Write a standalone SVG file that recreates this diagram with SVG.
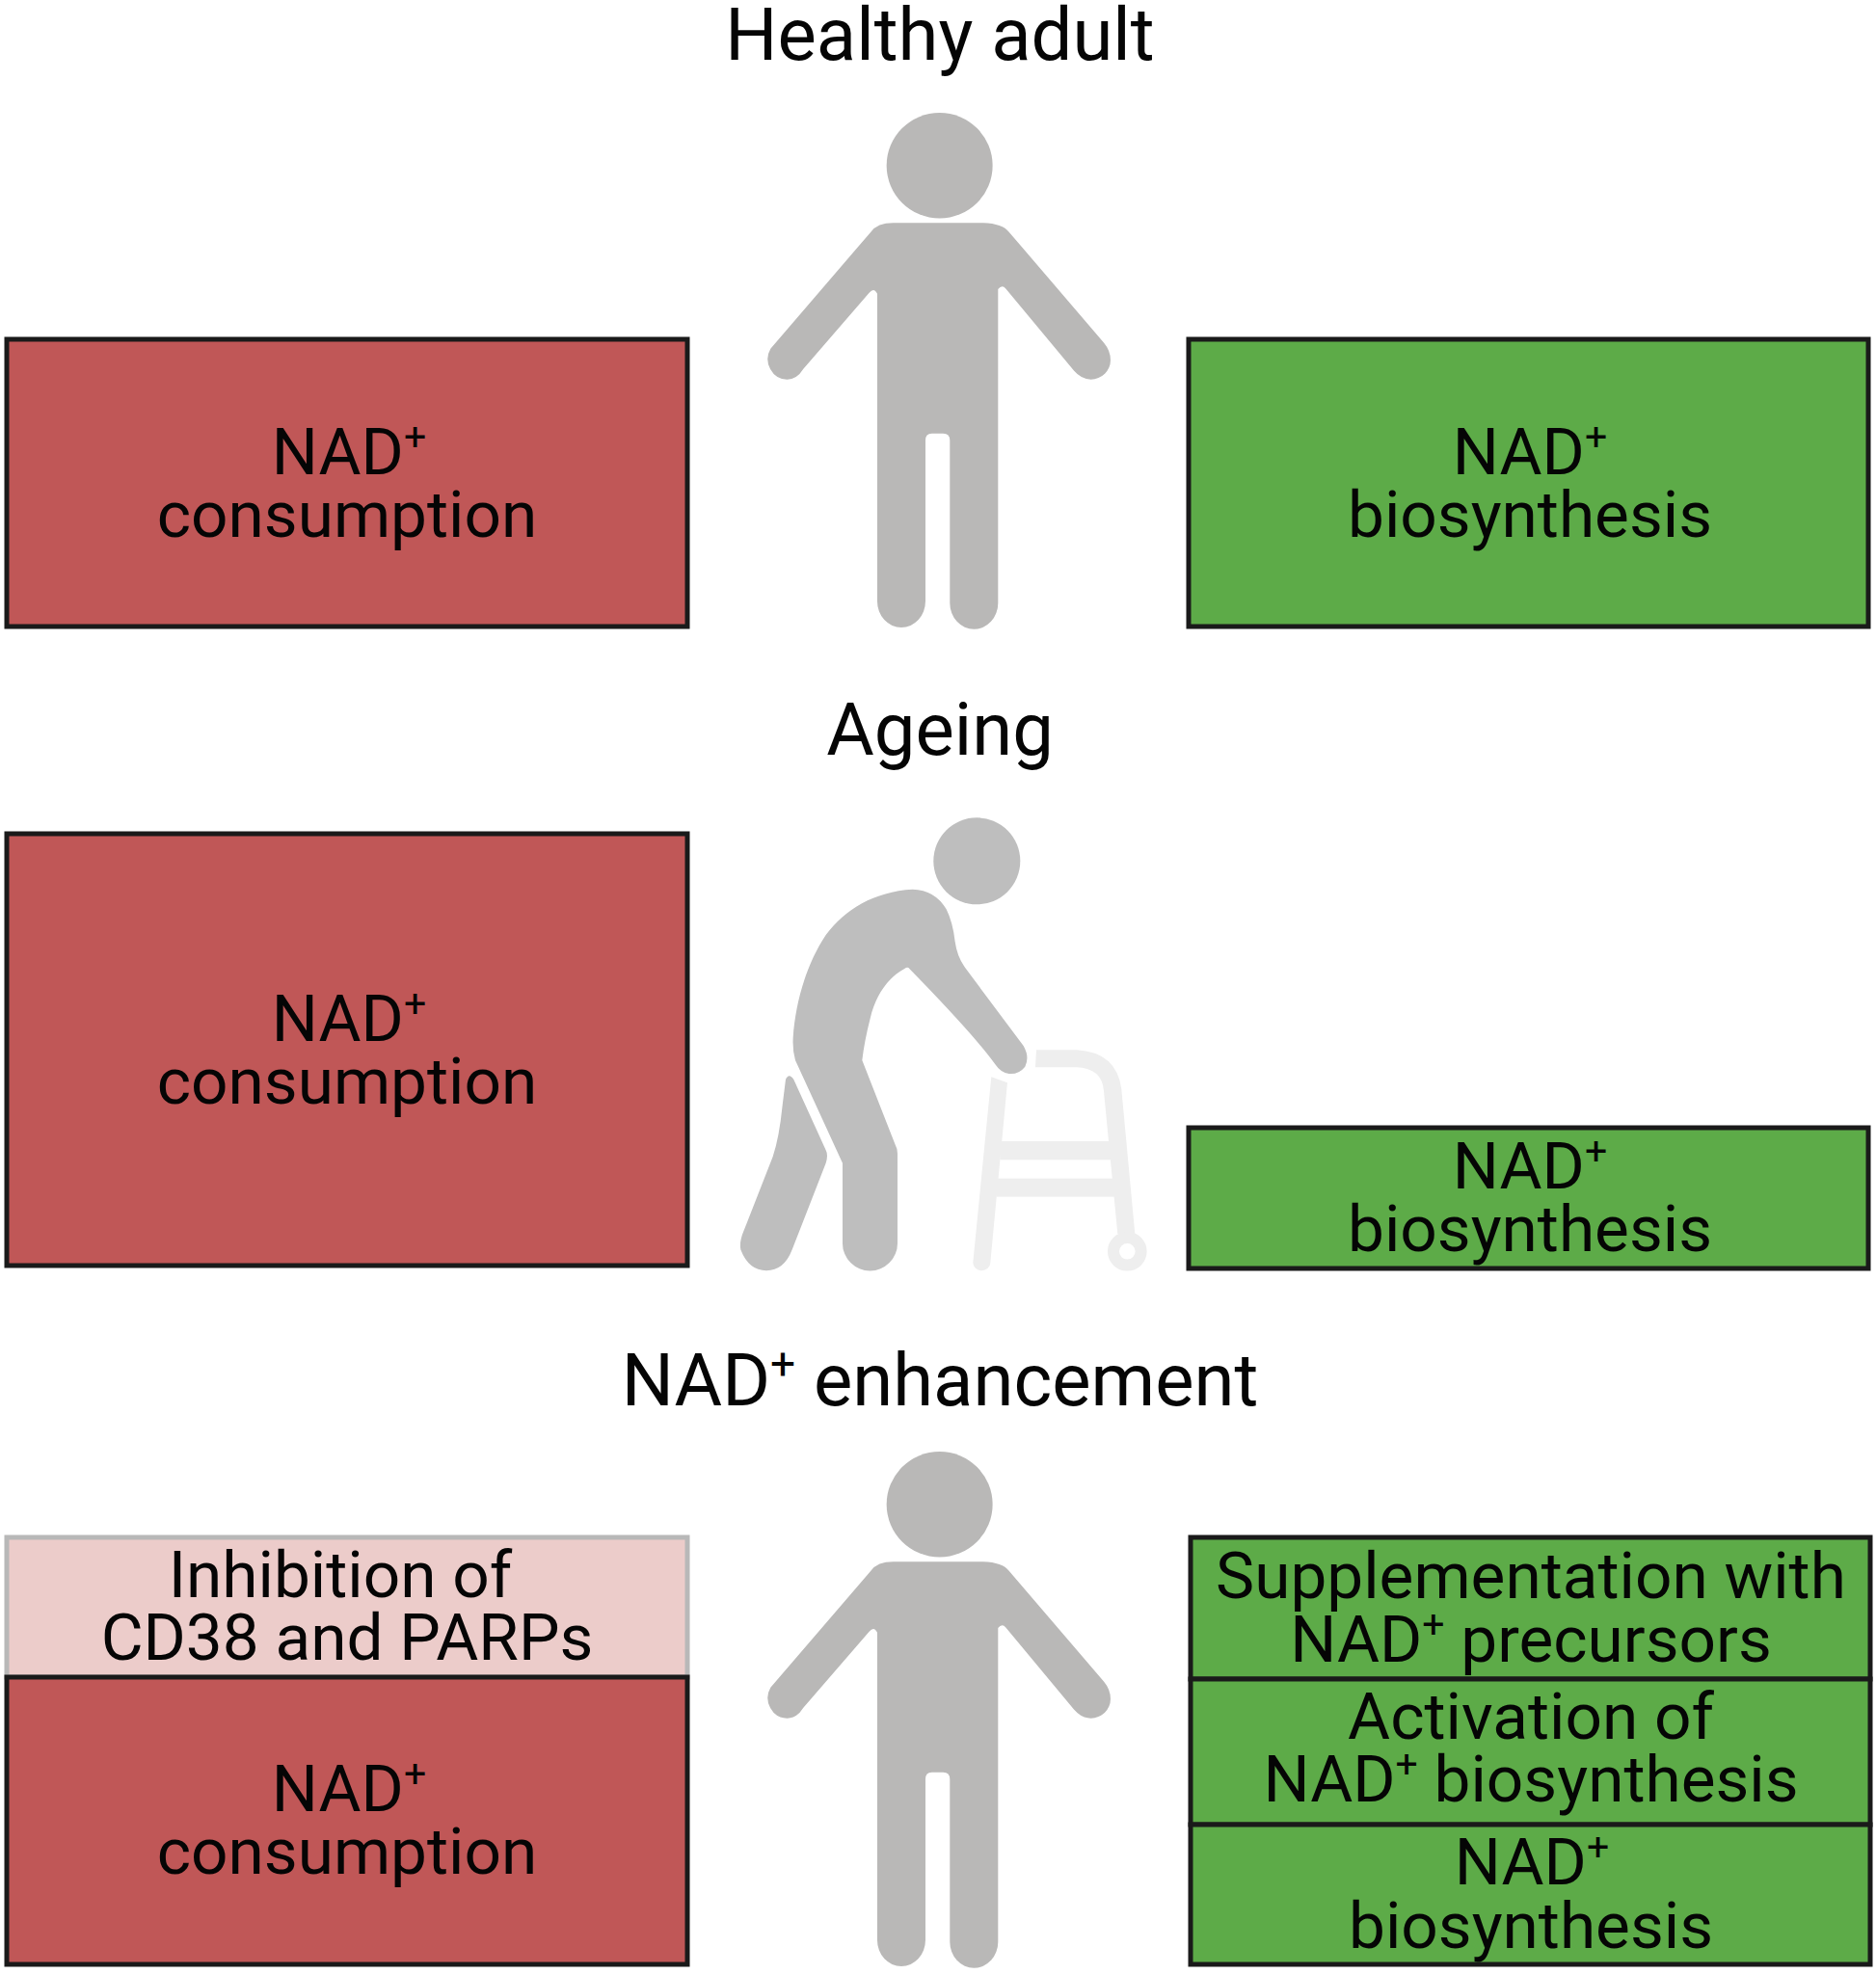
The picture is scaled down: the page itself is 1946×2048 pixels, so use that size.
<svg xmlns="http://www.w3.org/2000/svg" xmlns:xlink="http://www.w3.org/1999/xlink" width="1946" height="2048" viewBox="0 0 1946 2048">
<style>
text{font-family:Roboto,"Liberation Sans",sans-serif;font-size:67.5px;fill:#050505;text-anchor:middle}
.t{font-size:76px}
.r,.g,.p{stroke:#1a1a1a;stroke-width:5}
.r{fill:#c05757}.g{fill:#5dab48}.p{fill:#ecccca;stroke:#b8b8b8}
.person{fill:#b9b8b7}.old{fill:#bebebe}.walker{fill:#eeeeee}
.s{font-size:41px}
.ts{font-size:46px}
</style>
<defs>
<g id="adult">
<ellipse cx="644" cy="198" rx="165" ry="151"/>
<path d="M500 362 L780 362 Q840 364 860 388 L1155 705 Q1176 728 1176 755 A62 55 0 0 1 1115 810 Q1085 810 1062 785 L850 550 Q838 538 826 552 L826 1450 A75 75 0 0 1 676 1450 L676 985 Q676 965 655 965 L620 965 Q600 965 600 985 L600 1445 A75 75 0 0 1 450 1445 L450 565 Q440 545 425 562 L220 780 Q200 810 170 810 A60 58 0 0 1 118 722 L430 388 Q450 362 500 362 Z"/>
</g>
</defs>
<rect width="1946" height="2048" fill="#fff"/>
<g id="connectors"/>
<g id="title-healthy"><text class="t" x="975" y="62">Healthy adult</text></g>
<g id="title-ageing"><text class="t" x="975" y="783">Ageing</text></g>
<g id="title-enhancement"><text class="t" x="975" y="1458">NAD<tspan class="ts" dy="-27">+</tspan><tspan dy="27"> enhancement</tspan></text></g>

<g id="person-healthy" class="person" transform="translate(760 100) scale(.3333 .3625)"><use xlink:href="#adult" href="#adult"/></g>
<g id="person-enhanced" class="person" transform="translate(760 1489) scale(.3333 .3625)"><use xlink:href="#adult" href="#adult"/></g>

<g id="person-ageing" transform="translate(750 830) scale(.3333)">
<g class="old">
<circle cx="790" cy="190" r="135"/>
<path d="M590 278 Q660 280 695 340 Q715 380 722 440 Q728 485 752 520 L935 765 Q955 800 940 830 Q920 855 890 852 Q865 850 845 820 Q780 730 580 525 Q575 518 565 525 C510 555 475 610 458 680 Q440 750 433 810 L535 1070 Q543 1085 543 1100 L543 1380 A85 85 0 0 1 372 1380 L372 1130 L225 810 Q216 780 218 740 C225 630 260 510 320 420 C380 340 470 285 590 278 Z"/>
<path d="M195 870 Q205 848 220 870 L320 1090 Q328 1105 320 1130 L215 1400 Q190 1465 135 1465 Q80 1465 55 1400 Q50 1375 65 1340 L155 1110 Q175 1050 185 950 Z"/>
</g>
<g class="walker">
<path d="M835 862 L885 880 L832 1440 A27 25 0 0 1 778 1440 Z"/>
<path d="M975 778 L1100 778 Q1225 785 1240 900 L1282 1350 L1228 1350 L1185 905 Q1180 835 1100 832 L972 832 Z"/>
<rect x="862" y="1062" width="345" height="58"/>
<rect x="850" y="1178" width="370" height="57"/>
<circle cx="1258" cy="1405" r="43" fill="none" stroke="#eeeeee" stroke-width="36"/>
</g>
</g>

<g id="row1-consumption"><rect class="r" x="7" y="352" width="706" height="298"/>
<text x="362" y="492">NAD<tspan class="s" dy="-25">+</tspan></text><text x="360" y="557">consumption</text></g>
<g id="row1-biosynthesis"><rect class="g" x="1233" y="352" width="705" height="298"/>
<text x="1587" y="492">NAD<tspan class="s" dy="-25">+</tspan></text><text x="1587" y="557">biosynthesis</text></g>

<g id="row2-consumption"><rect class="r" x="7" y="865" width="706" height="448"/>
<text x="362" y="1080">NAD<tspan class="s" dy="-25">+</tspan></text><text x="360" y="1145">consumption</text></g>
<g id="row2-biosynthesis"><rect class="g" x="1233" y="1170" width="705" height="146"/>
<text x="1587" y="1233">NAD<tspan class="s" dy="-25">+</tspan></text><text x="1587" y="1298">biosynthesis</text></g>

<g id="row3-inhibition"><rect class="p" x="7" y="1595" width="706" height="145"/>
<text x="353" y="1657">Inhibition of</text><text x="360" y="1722">CD38 and PARPs</text></g>
<g id="row3-consumption"><rect class="r" x="7" y="1740" width="706" height="298"/>
<text x="362" y="1879">NAD<tspan class="s" dy="-25">+</tspan></text><text x="360" y="1944">consumption</text></g>

<g id="row3-supplementation"><rect class="g" x="1235" y="1595" width="705" height="147"/>
<text x="1588" y="1658">Supplementation with</text><text x="1588" y="1724">NAD<tspan class="s" dy="-25">+</tspan><tspan dy="25"> precursors</tspan></text></g>
<g id="row3-activation"><rect class="g" x="1235" y="1742" width="705" height="151"/>
<text x="1588" y="1804">Activation of</text><text x="1588" y="1869">NAD<tspan class="s" dy="-25">+</tspan><tspan dy="25"> biosynthesis</tspan></text></g>
<g id="row3-biosynthesis"><rect class="g" x="1235" y="1893" width="705" height="145"/>
<text x="1589" y="1955">NAD<tspan class="s" dy="-25">+</tspan></text><text x="1588" y="2021">biosynthesis</text></g>
</svg>
